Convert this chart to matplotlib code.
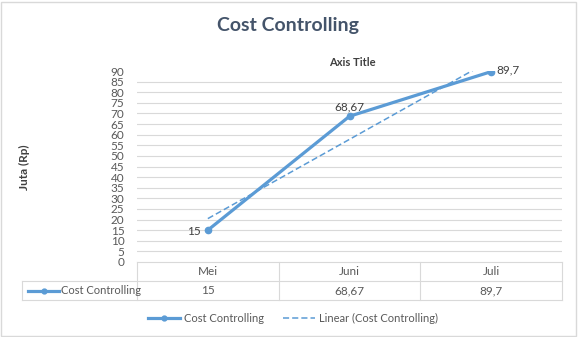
import numpy as np
import matplotlib.pyplot as plt
from matplotlib.lines import Line2D
import matplotlib.transforms as mtransforms

plt.rcParams['font.family'] = ['Lato', 'DejaVu Sans']

months = ['Mei', 'Juni', 'Juli']
cost = [15, 68.67, 89.7]
cost_labels = ['15', '68,67', '89,7']
series_name = 'Cost Controlling'

blue = '#5B9BD5'
grid_c = '#D9D9D9'
txt = '#595959'

W, H = 578, 337
fig = plt.figure(figsize=(W / 100, H / 100), dpi=100)
ax = fig.add_axes([137 / W, (H - 262) / H, (562 - 137) / W, (262 - 71) / H])

x = np.arange(1, len(months) + 1)
ax.plot(x, cost, color=blue, lw=2.3, marker='o', ms=4.5, zorder=3)

# linear trendline, as Excel does
k, b = np.polyfit(x, cost, 1)
xt = np.array([x[0], x[-1]])
ax.plot(xt, k * xt + b, color=blue, lw=1.1, ls=(0, (4, 2)), zorder=2)

ax.set_xlim(0.5, len(months) + 0.5)
ax.set_ylim(0, 90)
ax.set_yticks(np.arange(0, 91, 5))
ax.tick_params(axis='y', length=0, labelsize=8.5, labelcolor=txt, pad=9)
ax.set_xticks([])
ax.yaxis.grid(True, color=grid_c, lw=0.8)
ax.get_ygridlines()[-1].set_visible(False)
ax.get_ygridlines()[0].set_visible(False)
for s in ax.spines.values():
    s.set_visible(False)

# data labels
ax.annotate(cost_labels[0], (x[0], cost[0]), xytext=(-5, -1), textcoords='offset points',
            ha='right', va='center', fontsize=8.5, color='#404040')
ax.annotate(cost_labels[1], (x[1], cost[1]), xytext=(0, 2.5), textcoords='offset points',
            ha='center', va='bottom', fontsize=8.5, color='#404040')
ax.annotate(cost_labels[2], (x[2], cost[2]), xytext=(4, 1.5), textcoords='offset points',
            ha='left', va='center', fontsize=8.5, color='#404040')

# data table below the plot
tr = mtransforms.blended_transform_factory(ax.transData, ax.transAxes)
rh = 19 / 191
px = (562 - 137) / 3  # pixels per category
x_left = 0.5 - (137 - 22) / px
edges = np.arange(0.5, len(months) + 1, 1.0)
kw = dict(transform=tr, clip_on=False, color=grid_c, lw=0.8)
ax.plot([edges[0], edges[-1]], [0, 0], **kw)
ax.plot([x_left, edges[-1]], [-rh, -rh], **kw)
ax.plot([x_left, edges[-1]], [-2 * rh, -2 * rh], **kw)
ax.plot([x_left, x_left], [-rh, -2 * rh], **kw)
for e in edges:
    ax.plot([e, e], [0, -2 * rh], **kw)
for xi, m, lab in zip(x, months, cost_labels):
    ax.text(xi, -0.5 * rh, m, transform=tr, ha='center', va='center', fontsize=8.5, color=txt)
    ax.text(xi, -1.5 * rh, lab, transform=tr, ha='center', va='center', fontsize=8.5, color=txt)
kx = x_left + 6 / px
ax.plot([kx, kx + 31 / px], [-1.5 * rh] * 2, transform=tr, clip_on=False,
        color=blue, lw=2.3)
ax.plot([kx + 15.5 / px], [-1.5 * rh], transform=tr, clip_on=False,
        color=blue, marker='o', ms=3.5)
ax.text(kx + 33 / px, -1.5 * rh, series_name, transform=tr, ha='left', va='center',
        fontsize=8, color=txt)

# titles
fig.text(288 / W, 1 - 25 / H, 'Cost Controlling', ha='center', va='center',
         fontsize=14, fontweight='bold', color='#44546A')
fig.text(352 / W, 1 - 62 / H, 'Axis Title', ha='center', va='center',
         fontsize=8, fontweight='bold', color='#404040')
fig.text(24 / W, 1 - 167 / H, 'Juta (Rp)', ha='center', va='center', rotation=90,
         fontsize=8.5, fontweight='bold', color='#404040')

# legend
handles = [Line2D([], [], color=blue, lw=2.3, marker='o', ms=3.5),
           Line2D([], [], color=blue, lw=1.1, ls=(0, (4, 2)))]
fig.legend(handles, [series_name, 'Linear (' + series_name + ')'], ncol=2,
           loc='center', bbox_to_anchor=(293 / W, 1 - 318 / H), frameon=False,
           fontsize=8, labelcolor=txt, handlelength=2.9, handletextpad=0.35,
           columnspacing=1.7)

# chart border
fig.add_artist(plt.Rectangle((0.5 / W, 1.5 / H), 575 / W, 334 / H, transform=fig.transFigure,
                             fill=False, ec=grid_c, lw=1))

fig.savefig('out.png', dpi=100)
